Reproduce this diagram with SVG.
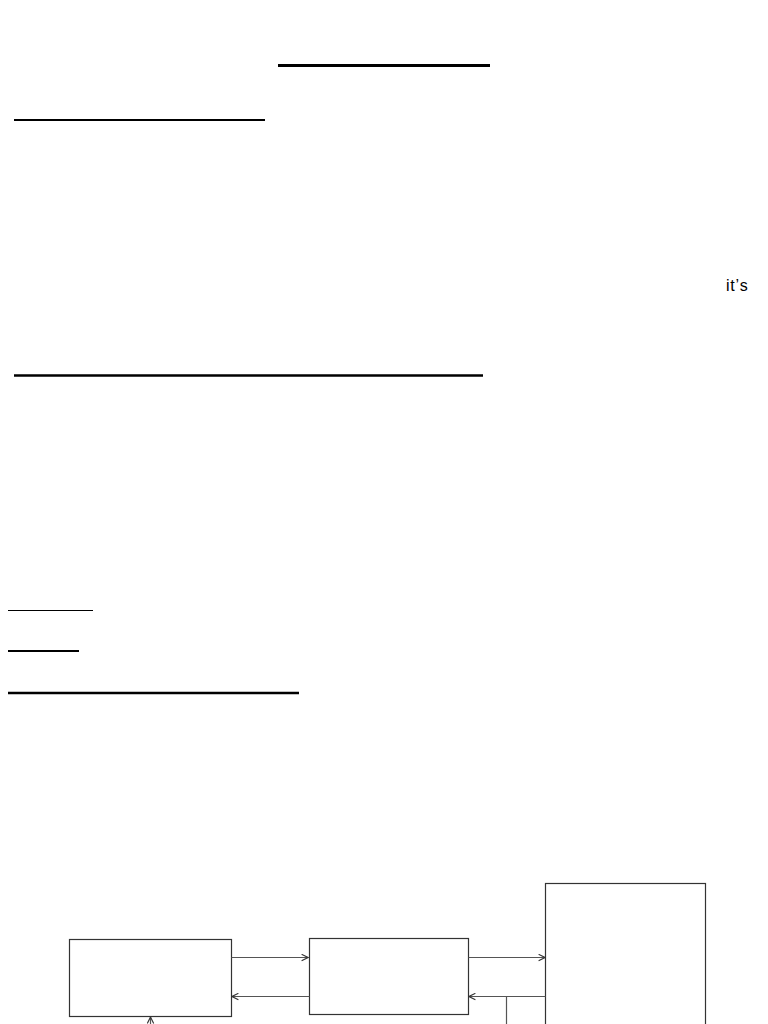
<svg xmlns="http://www.w3.org/2000/svg" width="768" height="1024" viewBox="0 0 768 1024">
<style>
.rule{stroke:#000;fill:none}
.box{fill:#fff;stroke:#333;stroke-width:1.2}
.conn{stroke:#555;stroke-width:1.2;fill:none}
.t{font-family:"Liberation Sans",Arial,sans-serif;font-size:16px;fill:#000;letter-spacing:0.8px}
</style>
<defs>
<marker id="ah" viewBox="0 0 10 10" refX="9" refY="5" markerWidth="8" markerHeight="8" markerUnits="userSpaceOnUse" orient="auto">
<path d="M1,1 L9,5 L1,9" fill="none" stroke="#333" stroke-width="1.4"/>
</marker>
</defs>
<rect width="768" height="1024" fill="#fff"/>
<g id="rules">
<line class="rule" x1="278" y1="65.5" x2="490" y2="65.5" stroke-width="3"/>
<line class="rule" x1="14" y1="120" x2="265" y2="120" stroke-width="2"/>
<line class="rule" x1="14" y1="375.5" x2="483" y2="375.5" stroke-width="2.5"/>
<line class="rule" x1="8" y1="610.5" x2="93" y2="610.5" stroke-width="1" stroke="#444"/>
<line class="rule" x1="8" y1="651" x2="79" y2="651" stroke-width="2"/>
<line class="rule" x1="8" y1="693" x2="299" y2="693" stroke-width="2.5"/>
</g>
<text class="t" x="726" y="291">it’s</text>
<g id="node1"><rect class="box" x="69.5" y="939.5" width="162" height="77"/></g>
<g id="node2"><rect class="box" x="309.5" y="938.5" width="159" height="76"/></g>
<g id="node3"><rect class="box" x="545.5" y="883.5" width="160" height="150"/></g>
<g id="connectors">
<line class="conn" x1="231.5" y1="957.5" x2="308" y2="957.5" marker-end="url(#ah)"/>
<line class="conn" x1="468.5" y1="957.5" x2="545" y2="957.5" marker-end="url(#ah)"/>
<line class="conn" x1="309.5" y1="996.5" x2="232" y2="996.5" marker-end="url(#ah)"/>
<line class="conn" x1="545.5" y1="996.5" x2="469" y2="996.5" marker-end="url(#ah)"/>
<line class="conn" x1="506.5" y1="996.5" x2="506.5" y2="1030"/>
<line class="conn" x1="150.5" y1="1030" x2="150.5" y2="1017" marker-end="url(#ah)"/>
</g>
</svg>
